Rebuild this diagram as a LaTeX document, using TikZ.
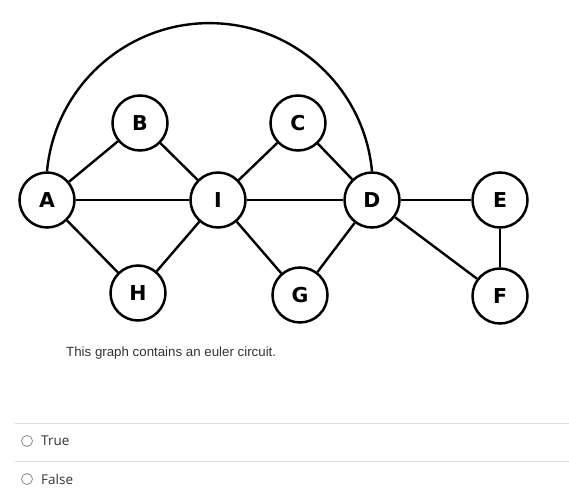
\documentclass[tikz,border=0pt]{standalone}
\usepackage{fontspec}
\setmainfont{Liberation Sans}
\newfontfamily\vertexfont{DejaVu Sans}
\newfontfamily\choicefont{Open Sans}
\usepackage{tikz}

\definecolor{textgray}{HTML}{333333}
\definecolor{rulegray}{HTML}{DDDDDD}
\definecolor{radiogray}{HTML}{8A8A8A}

\tikzset{
  vertex/.style={draw, circle, line width=2.5pt, minimum size=55pt, inner sep=0pt,
    font=\vertexfont\bfseries\fontsize{20.5}{20.5}\selectfont},
  edge/.style={line width=2.4pt},
  choice/.style={anchor=west, inner sep=0pt, text=textgray,
    font=\choicefont\fontsize{13.5}{14}\selectfont},
  radio/.style={draw=radiogray, line width=0.8pt, circle, minimum size=11pt, inner sep=0pt}
}

\begin{document}
\begin{tikzpicture}[x=1pt, y=-1pt]
\useasboundingbox (0,0) rectangle (569,495);
% vertices
\node[vertex] (A) at (47,200) {A};
\node[vertex] (B) at (140,123) {B};
\node[vertex] (I) at (218,200) {I};
\node[vertex] (H) at (138,293) {H};
\node[vertex] (C) at (298,123) {C};
\node[vertex] (D) at (372,200) {D};
\node[vertex] (G) at (300,295) {G};
\node[vertex] (E) at (500,200) {E};
\node[vertex] (F) at (500,296) {F};
% edges
\draw[edge] (A) -- (B);
\draw[edge] (A) -- (I);
\draw[edge] (A) -- (H);
\draw[edge] (B) -- (I);
\draw[edge] (H) -- (I);
\draw[edge] (I) -- (C);
\draw[edge] (I) -- (D);
\draw[edge] (I) -- (G);
\draw[edge] (C) -- (D);
\draw[edge] (G) -- (D);
\draw[edge] (D) -- (E);
\draw[edge] (D) -- (F);
\draw[edge] (E) -- (F);
% big arc over the top
\draw[edge] (A.north) arc[start angle=185.3, end angle=354.7, radius=163.2];
% question
\node[anchor=west, inner sep=0pt, text=textgray, font=\fontsize{13.3}{14}\selectfont]
  (question) at (66,353) {This graph contains an euler circuit.};
% answers
\draw[rulegray, line width=0.8pt] (15,423) -- (569,423);
\draw[rulegray, line width=0.8pt] (15,461) -- (569,461);
\node[radio] (rtrue) at (27,441) {};
\node[choice] (true) at (41,441) {True};
\node[radio] (rfalse) at (27,479) {};
\node[choice] (false) at (41,479) {False};
\end{tikzpicture}
\end{document}
